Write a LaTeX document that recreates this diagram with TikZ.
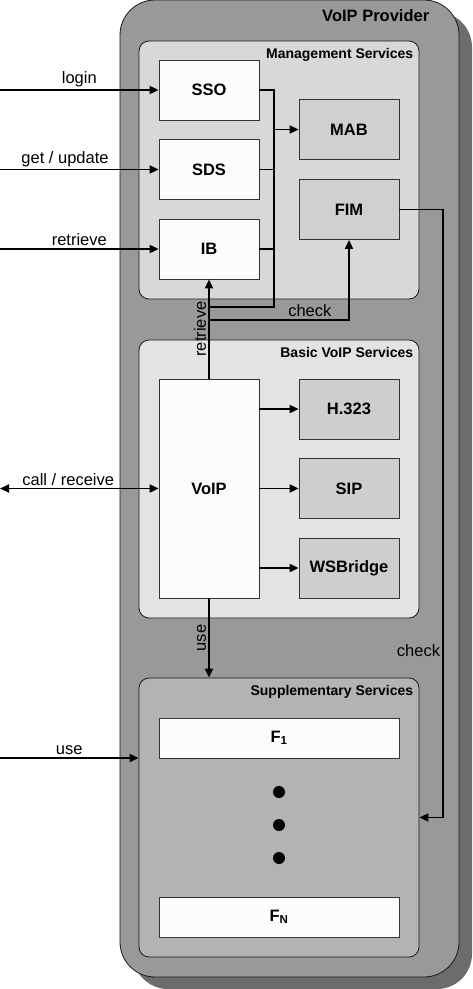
\documentclass[tikz,border=0pt]{standalone}
\usepackage{fontspec}
\setmainfont{Liberation Sans}
\usepackage{tikz}
\usetikzlibrary{arrows.meta, positioning, shadows}
\definecolor{providergray}{RGB}{153,153,153}
\definecolor{shadowgray}{RGB}{108,108,108}
\definecolor{mgmtbg}{RGB}{216,216,216}
\definecolor{basicbg}{RGB}{227,227,227}
\definecolor{suppbg}{RGB}{179,179,179}
\definecolor{subfill}{RGB}{208,208,208}
\definecolor{boxwhite}{RGB}{252,252,252}
\newcommand{\lblfont}{\fontsize{16.5}{19}\selectfont}
\newcommand{\ttlfont}{\fontsize{14}{16}\selectfont\bfseries}
\tikzset{
    provider/.style={rectangle, rounded corners=35pt, draw=black!90, line width=0.8pt, fill=providergray, inner sep=0pt,
        general shadow={fill=shadowgray, shadow xshift=13pt, shadow yshift=-12pt}},
    container/.style={rectangle, rounded corners=10pt, draw=black!90, line width=0.8pt, inner sep=0pt, minimum width=280pt},
    service/.style={rectangle, draw=black!80, line width=0.8pt, minimum width=100pt, minimum height=60pt, inner sep=0pt, font=\lblfont\bfseries},
    feature/.style={service, minimum width=240pt, minimum height=40pt, fill=boxwhite},
    title/.style={anchor=base east, inner sep=0pt, font=\ttlfont},
    dot/.style={circle, fill=black, minimum size=12pt, inner sep=0pt},
    conn/.style={-{Triangle[length=9pt,width=8pt]}, line width=1.9pt},
    line/.style={line width=1.9pt},
    lbl/.style={font=\lblfont, inner sep=2pt}
}
\begin{document}
\begin{tikzpicture}[x=1pt, y=-1pt]
    \useasboundingbox (0,0) rectangle (472,989);
    \fill[white] (0,0) rectangle (472,989);

    % Containers
    \node[provider, minimum width=339pt, minimum height=977pt] (provider) at (289.5,488.5) {};
    \node[title, font=\lblfont\bfseries] (providertitle) at ([xshift=-30pt, yshift=-22pt]provider.north east) {VoIP Provider};

    \node[container, minimum height=258pt, fill=mgmtbg] (mgmt) at (279,170) {};
    \node[title] (mgmttitle) at ([xshift=-6pt, yshift=-18pt]mgmt.north east) {Management Services};

    \node[container, minimum height=278pt, fill=basicbg] (basic) at (279,479) {};
    \node[title] (basictitle) at ([xshift=-6pt, yshift=-18pt]basic.north east) {Basic VoIP Services};

    \node[container, minimum height=279pt, fill=suppbg] (supp) at (279,817.5) {};
    \node[title] (supptitle) at ([xshift=-6pt, yshift=-18pt]supp.north east) {Supplementary Services};

    % Management services
    \node[service, fill=boxwhite] (sso) at (209,90) {SSO};
    \node[service, fill=boxwhite] (sds) at (209,169.5) {SDS};
    \node[service, fill=boxwhite] (ib) at (209,249) {IB};
    \node[service, fill=subfill] (mab) at (349,129.5) {MAB};
    \node[service, fill=subfill] (fim) at (349,209.5) {FIM};

    % Basic VoIP services
    \node[service, fill=boxwhite, minimum height=219pt] (voip) at (209,488.5) {VoIP};
    \node[service, fill=subfill!104] (h323) at (349,409) {H.323};
    \node[service, fill=subfill!104] (sip) at (349,488.5) {SIP};
    \node[service, fill=subfill!104] (wsbridge) at (349,568) {WSBridge};

    % Supplementary services
    \node[feature] (f1) at (279,738) {F\textsubscript{1}};
    \node[feature] (fn) at (279,917) {F\textsubscript{N}};
    \node[dot] (dot1) at (279,792) {};
    \node[dot] (dot2) at (279,825) {};
    \node[dot] (dot3) at (279,858) {};

    % Outside entry points
    \coordinate (loginin) at (0,90);
    \coordinate (getin) at (0,169.5);
    \coordinate (retrievein) at (0,249);
    \coordinate (callin) at (0,488.5);
    \coordinate (usein) at (0,758);
    \coordinate (busjoin) at (274,307);
    \coordinate (retjoin) at (209,307);
    \coordinate (checkjoin) at (209,320);
    \coordinate (checkright) at (443,817.5);

    % Connections
    \draw[conn] (loginin) -- node[lbl, above] {login} (sso.west);
    \draw[conn] (getin) -- node[lbl, above, pos=0.41] {get / update} (sds.west);
    \draw[conn] (retrievein) -- node[lbl, above] {retrieve} (ib.west);
    \draw[conn, {Triangle[length=9pt,width=8pt]}-{Triangle[length=9pt,width=8pt]}] (callin) -- node[lbl, above, pos=0.43] {call / receive} (voip.west);
    \draw[conn] (usein) -- node[lbl, above] {use} (usein -| supp.west);

    \draw[line] (sso.east) -| (busjoin) -- (retjoin);
    \draw[line] (sds.east) -- (sds.east -| busjoin);
    \draw[line] (ib.east) -- (ib.east -| busjoin);
    \draw[conn] (mab.west -| busjoin) -- (mab.west);

    \draw[conn] (voip.north) -- node[lbl, midway, rotate=90, anchor=south] {retrieve} (ib.south);
    \draw[conn] (checkjoin) -| node[lbl, above, pos=0.36] {check} (fim.south);
    \draw[conn] (fim.east) -| node[lbl, left, pos=0.863] {check} (checkright) -- (supp.east);

    \draw[conn] (h323.west -| voip.east) -- (h323.west);
    \draw[conn] (sip.west -| voip.east) -- (sip.west);
    \draw[conn] (wsbridge.west -| voip.east) -- (wsbridge.west);

    \draw[conn] (voip.south) -- node[lbl, midway, rotate=90, anchor=south] {use} (voip.south |- supp.north);
\end{tikzpicture}
\end{document}
